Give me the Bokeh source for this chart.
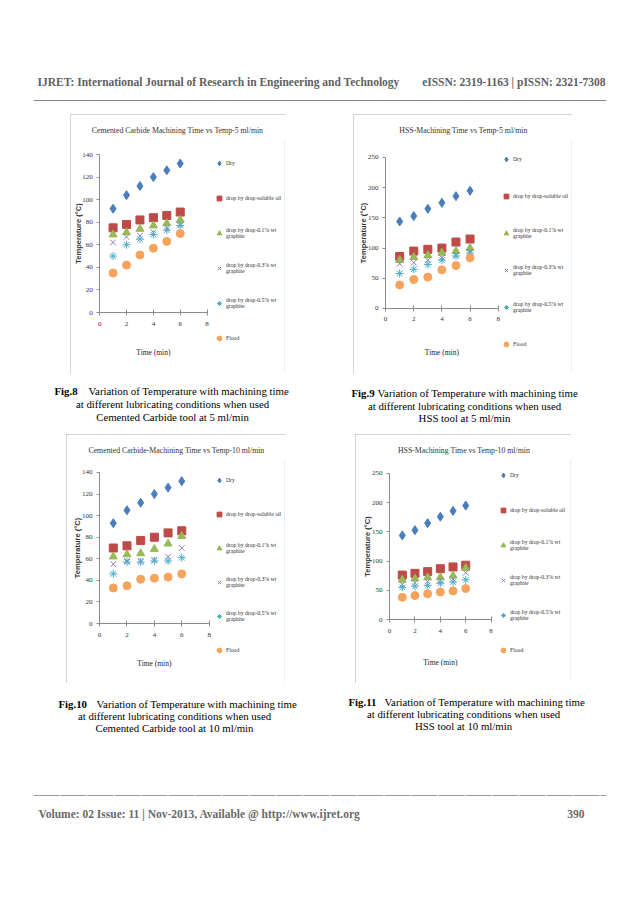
import math
from bokeh.plotting import figure
from bokeh.layouts import column, row
from bokeh.models import Spacer, Range1d, FixedTicker, Label
from bokeh.embed import file_html
from bokeh.resources import INLINE
from bokeh.core.properties import value

# ---------------- data ----------------
time_min = [1, 2, 3, 4, 5, 6]
x_ticks = [0, 2, 4, 6, 8]
series_labels = [
    "Dry",
    "drop by drop-soluble oil",
    "drop by drop-0.1% wt\ngraphite",
    "drop by drop-0.3% wt\ngraphite",
    "drop by drop-0.5% wt\ngraphite",
    "Flood",
]

# Fig.8 Cemented Carbide, 5 ml/min
cc5_dry = [92, 104, 112, 120, 126, 132]
cc5_oil = [75, 78, 82, 84, 86, 89]
cc5_g01 = [69, 71, 74, 77, 79, 82]
cc5_g03 = [62, 67, 68, 71, 75, 78]
cc5_g05 = [50, 60, 65, 69, 73, 77]
cc5_flood = [35, 42, 51, 57, 63, 70]

# Fig.9 HSS, 5 ml/min
hss5_dry = [144, 153, 165, 175, 186, 195]
hss5_oil = [86, 95, 98, 100, 110, 115]
hss5_g01 = [80, 85, 88, 92, 95, 100]
hss5_g03 = [74, 76, 80, 84, 88, 94]
hss5_g05 = [58, 65, 73, 80, 87, 92]
hss5_flood = [39, 48, 52, 64, 71, 84]

# Fig.10 Cemented Carbide, 10 ml/min
cc10_dry = [93, 105, 112, 120, 126, 132]
cc10_oil = [70, 72, 77, 80, 84, 86]
cc10_g01 = [62, 64, 65, 69, 74, 81]
cc10_g03 = [55, 58, 58, 59, 62, 70]
cc10_g05 = [46, 57, 57, 58, 58, 61]
cc10_flood = [33, 35, 41, 42, 43, 46]

# Fig.11 HSS, 10 ml/min
hss10_dry = [144, 153, 165, 176, 186, 195]
hss10_oil = [76, 79, 82, 87, 90, 93]
hss10_g01 = [68, 70, 72, 72, 75, 88]
hss10_g03 = [60, 63, 65, 67, 69, 80]
hss10_g05 = [55, 57, 58, 62, 64, 68]
hss10_flood = [38, 41, 44, 47, 49, 53]

cc_y_ticks = [0, 20, 40, 60, 80, 100, 120, 140]
hss_y_ticks = [0, 50, 100, 150, 200, 250]

# ---------------- style ----------------
FONT = "Liberation Serif"
markers = ["diamond", "square", "triangle", "x", "asterisk", "circle"]
colors = ["#4a7ebb", "#be4b48", "#98b954", "#8d7bb8", "#4bacc6", "#f6a35b"]
sizes = [9, 8, 8, 8, 8, 8]


def chart(title, series, y_ticks, width, height, top, xr, yr,
          leg_x, leg_y, spacing, t_off, y_off):
    p = figure(width=width, height=height, output_backend="svg",
               toolbar_location=None,
               x_range=Range1d(*xr), y_range=Range1d(*yr),
               min_border_left=2, min_border_right=1,
               min_border_top=top, min_border_bottom=2)
    p.outline_line_color = None
    p.grid.visible = False
    p.background_fill_color = "white"
    p.border_fill_color = "white"
    p.styles = {"outline": "1px solid #c4c4c4", "outline-offset": "-1px"}

    p.title.text = title
    p.title.align = "center"
    p.title.text_font = FONT
    p.title.text_font_size = "7.8px"
    p.title.text_font_style = "normal"
    p.title.text_color = "#333333"

    for ys, lab, m, c, s in zip(series, series_labels, markers, colors, sizes):
        p.scatter(time_min, ys, marker=m, size=s, fill_color=c,
                  line_color=c, line_width=1, legend_label=lab)

    for ax in (p.xaxis, p.yaxis):
        ax.fixed_location = 0
        ax.axis_line_color = "#8c8c8c"
        ax.major_tick_line_color = "#8c8c8c"
        ax.minor_tick_line_color = None
        ax.major_label_text_font = FONT
        ax.major_label_text_font_size = "7px"
        ax.major_label_text_color = "#333333"
    p.xaxis.bounds = (0, x_ticks[-1])
    p.xaxis.ticker = FixedTicker(ticks=x_ticks)
    p.xaxis.major_tick_in = 3
    p.xaxis.major_tick_out = 3
    p.xaxis.major_label_standoff = 6

    p.yaxis.bounds = (0, y_ticks[-1])
    p.yaxis.ticker = FixedTicker(ticks=y_ticks)
    p.yaxis.major_tick_in = 0
    p.yaxis.major_tick_out = 3
    p.yaxis.major_label_standoff = 4

    # axis titles, anchored to the middle of each bounded axis
    p.add_layout(Label(x=x_ticks[-1] / 2, y=0, y_offset=-t_off,
                       text="Time (min)", text_font=FONT,
                       text_font_size="7.5px", text_color="#222222",
                       text_align="center", text_baseline="middle"))
    p.add_layout(Label(x=0, y=y_ticks[-1] / 2, x_offset=-y_off,
                       angle=math.pi / 2, text="Temperature (°C)",
                       text_font="Liberation Sans", text_font_size="7.5px",
                       text_font_style="bold", text_color="#333333",
                       text_align="center", text_baseline="middle"))

    lg = p.legend[0]
    lg.location = (leg_x, leg_y)
    lg.border_line_color = None
    lg.background_fill_alpha = 0
    lg.padding = 0
    lg.margin = 0
    lg.spacing = spacing
    lg.glyph_width = 12
    lg.glyph_height = 20
    lg.label_height = 20
    lg.label_standoff = 1
    lg.label_text_font = FONT
    lg.label_text_font_size = "5.7px"
    lg.label_text_color = "#333333"
    return p


f8 = chart("Cemented Carbide Machining  Time vs Temp-5 ml/min",
           [cc5_dry, cc5_oil, cc5_g01, cc5_g03, cc5_g05, cc5_flood],
           cc_y_ticks, 215, 260, 25, (-2.02, 13.76), (-53.16, 153.3),
           141, 24, 15, 40, 21)
f9 = chart("HSS-Machining Time vs Temp-5 ml/min",
           [hss5_dry, hss5_oil, hss5_g01, hss5_g03, hss5_g05, hss5_flood],
           hss_y_ticks, 219, 260, 25, (-2.14, 13.21), (-105.96, 279.8),
           145, 18, 17, 44, 22)
f10 = chart("Cemented Carbide-Machining Time vs Temp-10 ml/min",
            [cc10_dry, cc10_oil, cc10_g01, cc10_g03, cc10_g05, cc10_flood],
            cc_y_ticks, 219, 249, 25, (-2.27, 13.50), (-53.77, 152.05),
            145, 21, 14, 40, 22)
f11 = chart("HSS-Machining Time vs Temp-10 ml/min",
            [hss10_dry, hss10_oil, hss10_g01, hss10_g03, hss10_g05, hss10_flood],
            hss_y_ticks, 216, 249, 25, (-2.53, 14.26), (-106.16, 273.97),
            140, 21, 15, 43, 22)


def page_part(top, bottom):
    p = figure(width=638, height=bottom - top, output_backend="svg",
               toolbar_location=None, x_range=Range1d(0, 638),
               y_range=Range1d(bottom, top), x_axis_type=None,
               y_axis_type=None, min_border=0)
    p.outline_line_color = None
    p.border_fill_color = "white"
    return p


def txt(p, x, y, s, size="10.8px", style="normal", color="black",
        align="left"):
    p.text(x=[x], y=[y], text=[s], text_font=value(FONT),
           text_font_size=size, text_font_style=style, text_color=color,
           text_align=align, text_baseline="middle")


header = page_part(0, 114)
txt(header, 37, 81, "IJRET: International Journal of Research in Engineering and Technology",
    size="11.5px", style="bold", color="#5f5f5f")
txt(header, 605, 81, "eISSN: 2319-1163 | pISSN: 2321-7308",
    size="11.5px", style="bold", color="#5f5f5f", align="right")
header.segment(x0=[33], y0=[100], x1=[606], y1=[100], line_color="#8a8a8a",
               line_width=1.2)

mid = page_part(374, 434)
txt(mid, 54, 390, "Fig.8", style="bold")
txt(mid, 88, 390, "Variation of Temperature with machining time")
txt(mid, 172, 403, "at different lubricating conditions when used", align="center")
txt(mid, 172, 416, "Cemented Carbide tool at 5 ml/min", align="center")
txt(mid, 351, 392, "Fig.9", style="bold")
txt(mid, 377, 392, "Variation of Temperature with machining time")
txt(mid, 464, 405, "at different lubricating conditions when used", align="center")
txt(mid, 464, 417, "HSS tool at 5 ml/min", align="center")

foot = page_part(683, 898)
txt(foot, 58, 703, "Fig.10", style="bold")
txt(foot, 96, 703, "Variation of Temperature with machining time")
txt(foot, 174, 715, "at different lubricating conditions when used", align="center")
txt(foot, 174, 727, "Cemented Carbide tool at 10 ml/min", align="center")
txt(foot, 348, 701, "Fig.11", style="bold")
txt(foot, 384, 701, "Variation of Temperature with machining time")
txt(foot, 463, 713, "at different lubricating conditions when used", align="center")
txt(foot, 463, 725, "HSS tool at 10 ml/min", align="center")
foot.segment(x0=[33], y0=[795], x1=[606], y1=[795], line_color="#9a9a9a",
             line_width=1, line_dash="26 1")
txt(foot, 38, 813, "Volume: 02 Issue: 11 | Nov-2013, Available @ http://www.ijret.org",
    size="11.5px", style="bold", color="#6a6a6a")
txt(foot, 584, 813, "390", size="11.5px", style="bold", color="#6a6a6a",
    align="right")

row1 = row(Spacer(width=70, height=260), f8, Spacer(width=68, height=260), f9,
           Spacer(width=66, height=260))
row2 = row(Spacer(width=66, height=249), f10, Spacer(width=70, height=249), f11,
           Spacer(width=67, height=249))
page = column(header, row1, mid, row2, foot)

open("out.html", "w").write(file_html(page, INLINE))
